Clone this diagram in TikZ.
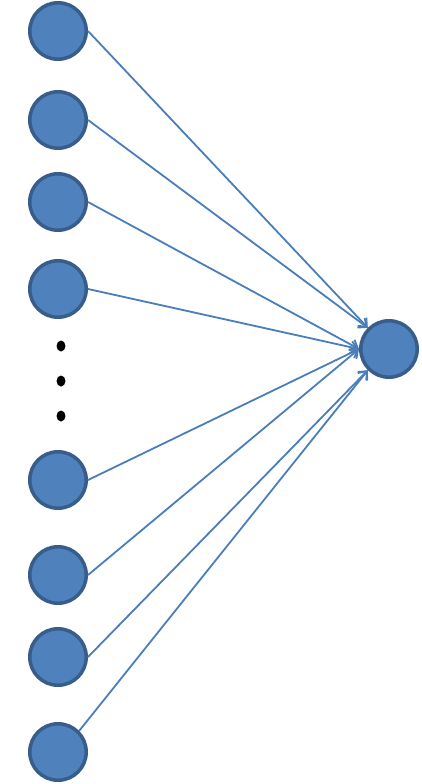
\documentclass[tikz,border=0pt]{standalone}
\usepackage{tikz}
\usetikzlibrary{arrows}
\usetikzlibrary{arrows.meta}

\definecolor{nodefill}{HTML}{4F81BD}
\definecolor{nodeline}{HTML}{385D8A}
\definecolor{wire}{HTML}{4A7EBB}

\begin{document}
\begin{tikzpicture}[x=1pt,y=-1pt,->,>={Straight Barb[length=7pt,width=12pt]},
                        main node/.style={circle,draw=nodeline,fill=nodefill,line width=3.5pt,
                        inner sep=0pt,minimum size=56.5pt}]
        \useasboundingbox (0,0) rectangle (421,784);

        \node[main node] (inone) at (58,31) {};
        \node[main node] (intwo) at (58,120) {};
        \node[main node] (inthree) at (58,202) {};
        \node[main node] (infour) at (58,289) {};
        \node[main node] (infive) at (58,480) {};
        \node[main node] (insix) at (58,575) {};
        \node[main node] (inseven) at (58,657) {};
        \node[main node] (ineight) at (58,752) {};

        \node[main node] (output) at (389,349) {};

        \fill (61,346) ellipse (4.5 and 5.5);
        \fill (61,381) ellipse (4.5 and 5.5);
        \fill (61,416) ellipse (4.5 and 5.5);

        \begin{scope}[draw=wire,line width=1.8pt]
            \path [->] (inone.east) edge (output.north west);
            \path [->] (intwo.east) edge (output.north west);
            \path [->] (inthree.east) edge (output.west);
            \path [->] (infour.east) edge (output.west);
            \path [->] (infive.east) edge (output.west);
            \path [->] (insix.east) edge (output.west);
            \path [->] (inseven.east) edge (output.south west);
            \path [->] (ineight.north east) edge (output.south west);
        \end{scope}
    \end{tikzpicture}
\end{document}
